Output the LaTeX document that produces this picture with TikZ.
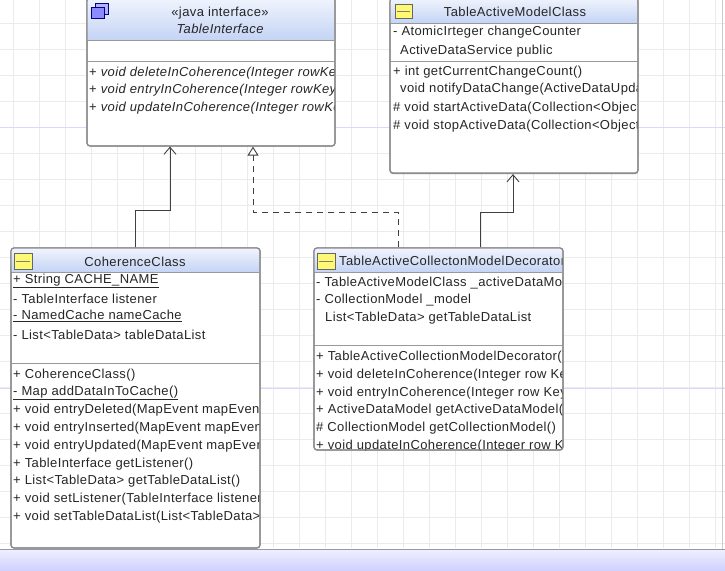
\documentclass[tikz,border=0pt]{standalone}
\usepackage{fontspec}
\setmainfont[LetterSpace=3]{Liberation Sans}
\usetikzlibrary{arrows.meta}
\definecolor{hdtop}{RGB}{240,244,253}
\definecolor{hdbot}{RGB}{196,212,245}
\begin{document}
\begin{tikzpicture}[x=1pt,y=-1pt,
  boxst/.style={draw=black!45,line width=1.2pt,rounded corners=3pt,fill=white},
  txt/.style={anchor=west,inner sep=0pt,font=\fontsize{13}{15}\selectfont,text=black!85},
  ttl/.style={anchor=center,inner sep=0pt,font=\fontsize{13}{15}\selectfont,text=black!85},
  sepl/.style={draw=black!40,line width=0.8pt},
  conn/.style={draw=black!75,line width=0.9pt},
  gen/.style={conn,-{Straight Barb[length=7pt,width=12pt]}},
  real/.style={conn,dashed,dash pattern=on 6pt off 5pt,-{Triangle[open,length=9pt,width=11pt,fill=white]}}]
\useasboundingbox (0,0) rectangle (725,570);
\fill[white] (0,0) rectangle (725,570);
\foreach \x in {13,39,...,725} \draw[black!8] (\x,0) -- (\x,548);
\foreach \y in {23,49,...,548} \draw[black!8] (0,\y) -- (725,\y);
\draw[blue!15] (0,127) -- (725,127);
\draw[blue!15] (0,388) -- (725,388);
\shade[top color=blue!6,bottom color=blue!18] (0,549) rectangle (725,570);
\draw[black!40] (0,549) -- (725,549);
\draw[black!20] (722,0) -- (722,549);

% ---------- TableInterface
\node[boxst,minimum width=248,minimum height=148,inner sep=0pt] (ti) at (211,72) {};
\begin{scope}
\clip[rounded corners=3pt] (87,-2) rectangle (334,146);
\shade[top color=hdtop,bottom color=hdbot] (87,-2) rectangle (335,40);
\draw[sepl] (87,40) -- (335,40);
\draw[sepl] (87,61) -- (335,61);
\node[ttl] (tis) at (220,13) {«java interface»};
\node[ttl] (tin) at (220,29) {\itshape TableInterface};
\node[txt] (ti1) at (89,73) {+ \itshape void deleteInCoherence(Integer rowKey)};
\node[txt] (ti2) at (89,90) {+ \itshape void entryInCoherence(Integer rowKey)};
\node[txt] (ti3) at (89,108) {+ \itshape void updateInCoherence(Integer rowKey)};
\end{scope}
\draw[boxst,fill=none] (87,-2) rectangle (335,146);
\draw[blue!50!black,fill=blue!30] (95,3) rectangle (108,14);
\draw[blue!50!black,fill=blue!45] (91,7) rectangle (104,18);

% ---------- TableActiveModelClass
\node[boxst,minimum width=248,minimum height=175,inner sep=0pt] (tam) at (514,86) {};
\begin{scope}
\clip[rounded corners=3pt] (390,-2) rectangle (637,173);
\shade[top color=hdtop,bottom color=hdbot] (390,-2) rectangle (638,23);
\draw[sepl] (390,23) -- (638,23);
\draw[sepl] (390,61) -- (638,61);
\node[ttl] (tamt) at (515,12) {TableActiveModelClass};
\node[txt] (tam1) at (393,32) {- AtomicIrteger changeCounter};
\node[txt] (tam2) at (400,51) {ActiveDataService public};
\node[txt] (tam3) at (393,72) {+ int getCurrentChangeCount()};
\node[txt] (tam4) at (400,89) {void notifyDataChange(ActiveDataUpdateEvent)};
\node[txt] (tam5) at (393,108) {\# void startActiveData(Collection<Object>)};
\node[txt] (tam6) at (393,126) {\# void stopActiveData(Collection<Object>)};
\end{scope}
\draw[boxst,fill=none] (390,-2) rectangle (638,173);
\draw[black!60,fill=yellow!55] (395,4) rectangle (412,18);
\draw[black!50] (397,11) -- (410,11);

% ---------- CoherenceClass
\node[boxst,minimum width=249,minimum height=300,inner sep=0pt] (cc) at (135.5,398) {};
\begin{scope}
\clip[rounded corners=3pt] (11,248) rectangle (259,548);
\shade[top color=hdtop,bottom color=hdbot] (11,248) rectangle (260,272);
\draw[sepl] (11,272) -- (260,272);
\draw[sepl] (11,363) -- (260,363);
\node[ttl] (cct) at (135,262) {CoherenceClass};
\node[txt] (cc1) at (13,281) {\underline{+ String CACHE\_NAME}};
\node[txt] (cc2) at (13,299) {- TableInterface listener};
\node[txt] (cc3) at (13,316) {\underline{- NamedCache nameCache}};
\node[txt] (cc4) at (13,335) {- List<TableData> tableDataList};
\node[txt] (cc5) at (13,375) {+ CoherenceClass()};
\node[txt] (cc6) at (13,393) {\underline{- Map addDataInToCache()}};
\node[txt] (cc7) at (13,410) {+ void entryDeleted(MapEvent mapEvent)};
\node[txt] (cc8) at (13,428) {+ void entryInserted(MapEvent mapEvent)};
\node[txt] (cc9) at (13,446) {+ void entryUpdated(MapEvent mapEvent)};
\node[txt] (cc10) at (13,464) {+ TableInterface getListener()};
\node[txt] (cc11) at (13,481) {+ List<TableData> getTableDataList()};
\node[txt] (cc12) at (13,499) {+ void setListener(TableInterface listener)};
\node[txt] (cc13) at (13,517) {+ void setTableDataList(List<TableData> list)};
\end{scope}
\draw[boxst,fill=none] (11,248) rectangle (260,548);
\draw[black!60,fill=yellow!55] (14,253) rectangle (32,269);
\draw[black!50] (16,261) -- (30,261);

% ---------- Decorator
\node[boxst,minimum width=249,minimum height=202,inner sep=0pt] (dec) at (438.5,349) {};
\begin{scope}
\clip[rounded corners=3pt] (314,248) rectangle (562,450);
\shade[top color=hdtop,bottom color=hdbot] (314,248) rectangle (563,272);
\draw[sepl] (314,272) -- (563,272);
\draw[sepl] (314,345) -- (563,345);
\node[txt] (dect) at (339,261) {TableActiveCollectonModelDecorator};
\node[txt] (dec1) at (316,283) {- TableActiveModelClass \_activeDataModel};
\node[txt] (dec2) at (316,300) {- CollectionModel \_model};
\node[txt] (dec3) at (325,318) {List<TableData> getTableDataList};
\node[txt] (dec4) at (316,357) {+ TableActiveCollectionModelDecorator()};
\node[txt] (dec5) at (316,375) {+ void deleteInCoherence(Integer row Key)};
\node[txt] (dec6) at (316,393) {+ void entryInCoherence(Integer row Key)};
\node[txt] (dec7) at (316,410) {+ ActiveDataModel getActiveDataModel()};
\node[txt] (dec8) at (316,428) {\# CollectionModel getCollectionModel()};
\node[txt] (dec9) at (316,446) {+ void updateInCoherence(Integer row Key)};
\end{scope}
\draw[boxst,fill=none] (314,248) rectangle (563,450);
\draw[black!60,fill=yellow!55] (317,253) rectangle (335,269);
\draw[black!50] (319,261) -- (333,261);

% ---------- connectors
\draw[gen] (cc.north -| 135,0) -- (135,210) -- (170,210) -- (ti.south -| 170,0);
\draw[real] (dec.north -| 398,0) -- (398,212) -- (253,212) -- (ti.south -| 253,0);
\draw[gen] (dec.north -| 480,0) -- (480,212) -- (513,212) -- (tam.south -| 513,0);
\end{tikzpicture}
\end{document}
